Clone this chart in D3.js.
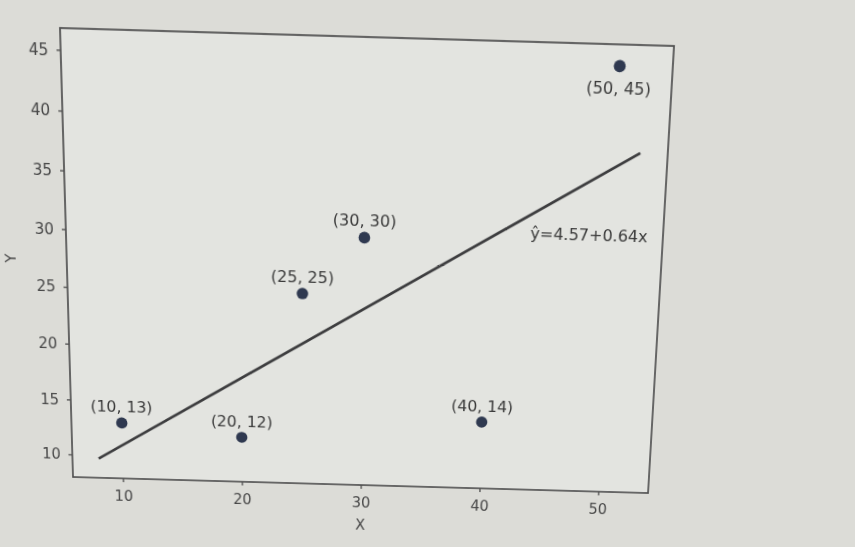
<!DOCTYPE html>
<html>
<head>
<meta charset="utf-8">
<script src="https://cdn.jsdelivr.net/npm/d3@7"></script>
<style>
  html, body { margin: 0; padding: 0; background: #dcdcd7; overflow: hidden; }
  svg { position: absolute; left: 0; top: 0; transform-origin: 0 0; }
  text { font-family: "DejaVu Sans", sans-serif; }
</style>
</head>
<body>
<svg width="855" height="547"></svg>
<script>
// data
const xs = [10, 20, 25, 30, 40, 50];
const ys = [13, 12, 25, 30, 14, 45];
const pointLabels = ["(10, 13)", "(20, 12)", "(25, 25)", "(30, 30)", "(40, 14)", "(50, 45)"];
const lineX = [8, 52];
const lineY = [9.69, 37.85];
const eqText = "ŷ=4.57+0.64x";
const eqAt = [48.2, 30.7];
const xTicks = [10, 20, 30, 40, 50];
const yTicks = [10, 15, 20, 25, 30, 35, 40, 45];

let svg = d3.select("svg");
let pL = 70, pT = 36, pR = 665, pB = 484;

let x = d3.scaleLinear().domain([5.8, 54.2]).range([pL, pR]);
let y = d3.scaleLinear().domain([7.92, 46.77]).range([pB, pT]);

// plot face
svg.append("rect")
	.attr("x", pL).attr("y", pT)
	.attr("width", pR - pL).attr("height", pB - pT)
	.attr("fill", "#e3e4e0");

let gx = svg.append("g").attr("transform", `translate(0,${pB})`)
	.call(d3.axisBottom(x).tickValues(xTicks).tickSize(4).tickPadding(9));
let gy = svg.append("g").attr("transform", `translate(${pL},0)`)
	.call(d3.axisLeft(y).tickValues(yTicks).tickSize(4).tickPadding(8));
[gx, gy].forEach(g => {
	g.select(".domain").remove();
	g.selectAll("line").attr("stroke", "#555").attr("stroke-width", 1.4);
	g.selectAll("text").attr("fill", "#474747").attr("font-size", 15)
		.attr("font-family", "DejaVu Sans, sans-serif");
});

svg.append("rect")
	.attr("x", pL).attr("y", pT)
	.attr("width", pR - pL).attr("height", pB - pT)
	.attr("fill", "none").attr("stroke", "#505050").attr("stroke-width", 1.7);

svg.append("text").attr("x", (pL + pR) / 2).attr("y", pB + 48)
	.attr("text-anchor", "middle").attr("font-size", 15).attr("fill", "#474747").text("X");
svg.append("text").attr("transform", `translate(${pL - 51},${(pT + pB) / 2}) rotate(-90)`)
	.attr("text-anchor", "middle").attr("font-size", 15).attr("fill", "#474747").text("Y");

// fitted line
svg.append("line")
	.attr("x1", x(lineX[0])).attr("y1", y(lineY[0]))
	.attr("x2", x(lineX[1])).attr("y2", y(lineY[1]))
	.attr("stroke", "#3d3d3f").attr("stroke-width", 2.7);

svg.append("text").attr("x", x(eqAt[0])).attr("y", y(eqAt[1]))
	.attr("text-anchor", "middle").attr("dominant-baseline", "middle")
	.attr("font-size", 16).attr("fill", "#3a3a3a").text(eqText);

let pts = xs.map((v, i) => ({ x: v, y: ys[i], label: pointLabels[i] }));
let yMax = d3.max(ys);

svg.append("g").selectAll("circle")
		.data(pts)
	.enter().append("circle")
		.attr("r", 5.8)
		.attr("fill", "#2f3950")
		.attr("cx", d => x(d.x))
		.attr("cy", d => y(d.y));

svg.append("g").selectAll("text")
		.data(pts)
	.enter().append("text")
		.attr("text-anchor", "middle")
		.attr("font-size", 16)
		.attr("fill", "#3a3a3a")
		.attr("x", d => x(d.x))
		.attr("y", d => d.y === yMax ? y(d.y) + 27 : y(d.y) - 11)
		.text(d => d.label);

// the reference is a photo of a screen: warp the flat chart onto the photographed quad
function homography(src, dst) {
	let A = [], b = [];
	for (let i = 0; i < 4; i++) {
		let [sx, sy] = src[i], [u, v] = dst[i];
		A.push([sx, sy, 1, 0, 0, 0, -u * sx, -u * sy]); b.push(u);
		A.push([0, 0, 0, sx, sy, 1, -v * sx, -v * sy]); b.push(v);
	}
	for (let c = 0; c < 8; c++) {
		let p = c;
		for (let r = c + 1; r < 8; r++) if (Math.abs(A[r][c]) > Math.abs(A[p][c])) p = r;
		[A[c], A[p]] = [A[p], A[c]]; [b[c], b[p]] = [b[p], b[c]];
		for (let r = 0; r < 8; r++) {
			if (r === c) continue;
			let f = A[r][c] / A[c][c];
			for (let k = c; k < 8; k++) A[r][k] -= f * A[c][k];
			b[r] -= f * b[c];
		}
	}
	return b.map((v, i) => v / A[i][i]);
}
let hm = homography(
	[[pL, pT], [pR, pT], [pR, pB], [pL, pB]],
	[[60, 28], [674, 46], [648, 493], [73, 477]]);
svg.style("transform", `matrix3d(${hm[0]},${hm[3]},0,${hm[6]},${hm[1]},${hm[4]},0,${hm[7]},0,0,1,0,${hm[2]},${hm[5]},0,1)`);
</script>
</body>
</html>
